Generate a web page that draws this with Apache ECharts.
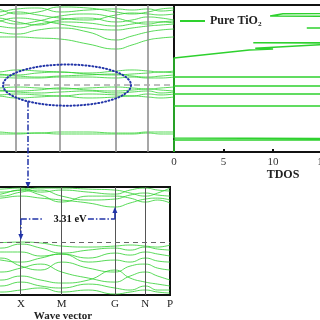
<!DOCTYPE html>
<html>
<head>
<meta charset="UTF-8">
<script src="https://cdn.jsdelivr.net/npm/echarts@6/dist/echarts.min.js"></script>
<style>
  html, body { margin: 0; padding: 0; background: #fff; }
  #chart { width: 320px; height: 320px; }
</style>
</head>
<body>
<div id="chart"></div>
<script>
// k-path (normalised distance) and high symmetry labels
const kLabels = ['X', 'M', 'G', 'N', 'P'];
const kTicks = [0.215, 0.43, 0.71, 0.87, 1];
const kSample = [0, 0.11, 0.215, 0.32, 0.43, 0.57, 0.71, 0.79, 0.87, 0.935, 1];

// top panel: full band structure (eV)
const topCond = [
  [6.41, 6.55, 6.55, 6.41, 6.27, 5.59, 4.91, 5.46, 6.14, 6.41, 6.55],
  [7.5, 7.23, 6.95, 7.5, 7.77, 7.23, 6.14, 6.68, 7.23, 7.5, 7.63],
  [8.31, 8.04, 7.77, 8.31, 8.59, 8.45, 8.04, 8.31, 8.59, 8.59, 8.45],
  [8.86, 9.13, 8.59, 8.18, 8.86, 9.13, 8.59, 8.86, 9.27, 9.13, 8.86],
  [9.68, 9.4, 9.95, 9.54, 9.13, 8.86, 9.54, 9.81, 9.68, 9.54, 9.68],
  [10.22, 9.95, 10.36, 10.49, 9.95, 10.22, 10.36, 10.22, 10.36, 10.08, 10.22],
  [8.04, 8.59, 9.13, 8.86, 8.31, 7.77, 7.5, 7.77, 8.04, 8.18, 8.31],
  [9.27, 8.86, 8.31, 8.72, 9.4, 9.68, 9.13, 8.59, 8.31, 8.59, 8.72],
  [10.49, 10.36, 9.68, 9.95, 10.63, 10.49, 9.95, 9.68, 9.95, 10.36, 10.49]
];
const topMid = [
  [1.92, 1.78, 2.06, 1.92, 1.78, 1.65, 1.92, 2.06, 1.92, 1.78, 1.92],
  [1.65, 1.51, 1.38, 1.65, 1.78, 1.51, 1.38, 1.51, 1.65, 1.78, 1.65],
  [1.24, 1.38, 1.24, 1.1, 1.24, 1.38, 1.51, 1.24, 1.1, 1.24, 1.38],
  [0.97, 1.1, 0.97, 0.97, 1.1, 1.1, 0.97, 1.1, 0.97, 0.97, 1.1],
  [-0.26, -0.39, -0.26, -0.39, -0.53, -0.39, -0.26, -0.39, -0.53, -0.39, -0.26],
  [-0.53, -0.67, -0.8, -0.67, -0.39, -0.67, -0.8, -0.67, -0.53, -0.67, -0.8],
  [-0.94, -0.8, -0.94, -1.07, -0.94, -0.8, -1.07, -0.94, -0.8, -1.07, -0.94],
  [-1.21, -1.34, -1.21, -1.34, -1.48, -1.21, -1.34, -1.48, -1.21, -1.34, -1.21],
  [-1.62, -1.48, -1.75, -1.62, -1.48, -1.75, -1.62, -1.48, -1.62, -1.75, -1.62]
];
const topDeep = [
  [-6.38, -6.38, -6.52, -6.52, -6.38, -6.38, -6.52, -6.52, -6.38, -6.38, -6.38],
  [-6.65, -6.65, -6.65, -6.52, -6.65, -6.65, -6.65, -6.65, -6.52, -6.65, -6.65]
];

// bottom panel: zoom near the gap (eV)
const botCond = [
  [3.97, 4.15, 4.34, 4.15, 3.97, 3.69, 3.31, 3.69, 4.06, 4.15, 3.97],
  [4.53, 4.34, 4.72, 4.91, 4.34, 3.97, 4.06, 4.44, 4.63, 4.44, 4.34],
  [4.91, 5.0, 5.1, 4.72, 4.91, 4.72, 4.53, 4.91, 5.1, 4.91, 4.82],
  [5.1, 4.72, 4.91, 5.1, 5.1, 5.0, 4.91, 4.63, 4.34, 4.63, 5.1],
  [4.15, 4.53, 4.91, 4.44, 3.78, 4.34, 4.34, 4.15, 3.78, 3.97, 3.69]
];
const botVal = [
  [-0.09, -0.05, 0, -0.09, -0.38, -0.47, -0.38, -0.28, -0.38, -0.47, -0.28],
  [-0.38, -0.57, -0.19, -0.57, -1.04, -0.76, -0.57, -0.76, -0.47, -0.66, -0.76],
  [-0.76, -0.94, -0.94, -1.32, -1.13, -1.51, -1.04, -1.23, -0.94, -1.13, -1.32],
  [-1.32, -1.7, -1.89, -1.51, -1.13, -1.89, -1.7, -1.89, -1.51, -1.79, -1.89],
  [-1.89, -1.51, -2.27, -2.64, -1.89, -2.46, -2.83, -2.27, -2.08, -2.46, -2.64],
  [-2.64, -2.83, -2.46, -2.08, -2.83, -3.4, -3.78, -3.21, -2.83, -3.21, -3.59],
  [-3.21, -3.59, -3.21, -3.59, -3.87, -3.59, -2.64, -3.4, -3.78, -3.97, -4.15],
  [-3.97, -4.15, -3.78, -4.15, -4.34, -3.97, -4.34, -4.53, -4.15, -4.53, -4.53],
  [-4.53, -4.72, -4.53, -4.34, -4.72, -4.53, -4.91, -4.72, -4.53, -4.72, -4.82]
];

// total DOS, traced along energy
const tdosE = [-9.1, -7.47, -7.47, -7.2, -7.2, -2.84, -2.84, -2.82, -2.82, -1.21, -1.21, -1.19, -1.19,
  -0.12, -0.12, -0.1, -0.1, 1.1, 1.1, 1.12, 1.12, 3.69, 4.78, 4.9, 5.0, 5.5, 5.6, 5.72, 5.75, 5.8,
  7.45, 7.77, 8.1, 9.2, 9.4, 9.7, 10.2, 10.9];
const tdosD = [0, 0, 60, 60, 0, 0, 60, 60, 0, 0, 60, 60, 0,
  0, 60, 60, 0, 0, 60, 60, 0, 0, 7.6, 10, 8.2, 14.7, 60, 60, 8, 60,
  60, 13.4, 60, 60, 9.7, 11, 60, 60];
const tdosTicks = 5;

const green = '#2ed12e';
const blue = '#2234a8';
const serif = "'Liberation Serif', 'Times New Roman', serif";

const chart = echarts.init(document.getElementById('chart'));

function bands(list, idx) {
  return list.map(b => ({
    type: 'line', xAxisIndex: idx, yAxisIndex: idx, silent: true,
    data: kSample.map((k, i) => [k, b[i]]),
    smooth: 0.5, symbol: 'none',
    lineStyle: { color: green, width: 1, opacity: 0.8 }, z: 3
  }));
}

const vlines = (color, width) => kTicks.slice(0, 4).map(k => ({ xAxis: k, lineStyle: { color, width, type: 'solid' } }));

const cbMin = Math.min(...botCond.map(b => Math.min(...b)));
const vbMax = Math.max(...botVal.map(b => Math.max(...b)));
const gapText = (cbMin - vbMax).toFixed(2) + ' eV';

const gridBase = { show: true, borderColor: '#111', borderWidth: 2, outerBoundsMode: 'none', containLabel: false };

const option = {
  animation: false,
  grid: [
    Object.assign({ left: -26, top: 5, width: 200, height: 147 }, gridBase),
    Object.assign({ left: 174, top: 5, width: 218, height: 147 }, gridBase),
    Object.assign({ left: -20, top: 187, width: 190, height: 108 }, gridBase)
  ],
  xAxis: [
    { type: 'value', gridIndex: 0, min: 0, max: 1, show: false },
    {
      type: 'value', gridIndex: 1, min: 0, max: 22, interval: tdosTicks, position: 'bottom',
      axisLine: { show: true, onZero: false, lineStyle: { color: '#111', width: 2 } },
      axisTick: { show: true, inside: true, length: 3, lineStyle: { color: '#111', width: 2 } },
      axisLabel: { show: true, margin: 5, color: '#333', fontSize: 11, fontFamily: serif },
      splitLine: { show: false },
      name: 'TDOS', nameLocation: 'middle', nameGap: 15,
      nameTextStyle: { fontFamily: serif, fontWeight: 'bold', fontSize: 12, color: '#222' }
    },
    {
      type: 'value', gridIndex: 2, min: 0, max: 1, position: 'bottom',
      axisLine: { show: false, onZero: false }, axisTick: { show: false }, splitLine: { show: false },
      axisLabel: {
        show: true, margin: 4, color: '#222', fontSize: 11, fontFamily: serif,
        customValues: kTicks, formatter: v => kLabels[kTicks.indexOf(v)]
      },
      name: 'Wave vector', nameLocation: 'middle', nameGap: 16,
      nameTextStyle: { fontFamily: serif, fontWeight: 'bold', fontSize: 11, color: '#222', padding: [0, 24, 0, 0] }
    }
  ],
  yAxis: [
    { type: 'value', gridIndex: 0, min: -9.1, max: 10.9, show: false },
    { type: 'value', gridIndex: 1, min: -9.1, max: 10.9, show: false },
    { type: 'value', gridIndex: 2, min: -5, max: 5.2, show: false }
  ],
  legend: {
    data: [{ name: 'Pure TiO₂', icon: 'rect' }], left: 175, top: 10, itemWidth: 25, itemHeight: 2,
    textStyle: { fontFamily: serif, fontWeight: 'bold', fontSize: 12, color: '#222' }
  },
  series: [
    {
      type: 'line', xAxisIndex: 0, yAxisIndex: 0, data: [], silent: true,
      markLine: {
        silent: true, symbol: 'none', label: { show: false },
        data: vlines('#8a8a8a', 1.5).concat([{ yAxis: 0, lineStyle: { color: '#aaa', width: 1.5, type: [6, 4] } }])
      }
    },
    {
      type: 'line', xAxisIndex: 2, yAxisIndex: 2, data: [], silent: true,
      markLine: {
        silent: true, symbol: 'none', label: { show: false },
        data: vlines('#555', 1).concat([{ yAxis: 0, lineStyle: { color: '#666', width: 1, type: [5, 4] } }])
      }
    },
    ...bands(topCond, 0), ...bands(topMid, 0), ...bands(topDeep, 0),
    ...bands(botCond, 2), ...bands(botVal, 2),
    {
      name: 'Pure TiO₂', type: 'line', xAxisIndex: 1, yAxisIndex: 1, silent: true,
      data: tdosE.map((e, i) => [tdosD[i], e]),
      symbol: 'none', itemStyle: { color: green }, lineStyle: { color: green, width: 1.5 }, z: 4
    }
  ]
};
chart.setOption(option);

// annotations: ellipse, arrows, gap label
const ellipseK = 0.465, ellipseRk = 0.32, ellipseRe = 2.8, arrowK = 0.27;
const gapLevel = 2.17;
const px = (gi, k, e) => chart.convertToPixel({ gridIndex: gi }, [k, e]);

const c0 = px(0, ellipseK, 0);
const c1 = px(0, ellipseK + ellipseRk, ellipseRe);
const rx = c1[0] - c0[0], ry = c0[1] - c1[1];
const pts = [];
for (let i = 0; i < 90; i++) {
  const t = i / 90 * Math.PI * 2;
  pts.push([c0[0] + rx * Math.cos(t), c0[1] + ry * Math.sin(t)]);
}
const ax = px(0, arrowK, 0)[0];
const ay0 = c0[1] + ry * Math.sqrt(Math.max(0, 1 - Math.pow((ax - c0[0]) / rx, 2)));
const ay1 = px(2, 0, 5.2)[1];

const dashDot = { stroke: blue, lineWidth: 1.5, lineDash: [6, 2, 1.5, 2] };
const pX = px(2, kTicks[0], gapLevel);
const pL = px(2, 0.332, gapLevel);
const pT = px(2, 0.474, gapLevel);
const pR = px(2, 0.568, gapLevel);
const pG = px(2, kTicks[2], gapLevel);
const yVB = px(2, 0, vbMax)[1];
const yCB = px(2, 0, cbMin)[1];

const head = (x, y, dir) => ({
  type: 'polygon', z: 101,
  shape: { points: [[x - 2.5, y - 6 * dir], [x + 2.5, y - 6 * dir], [x, y]] },
  style: { fill: blue }
});

chart.setOption({
  graphic: [
    { type: 'polygon', z: 100, shape: { points: pts }, style: { fill: 'none', stroke: blue, lineWidth: 2, lineDash: [1, 2.5], lineCap: 'round' } },
    { type: 'line', z: 100, shape: { x1: ax, y1: ay0, x2: ax, y2: ay1 - 5 }, style: dashDot },
    head(ax, ay1 + 1, 1),
    { type: 'line', z: 100, shape: { x1: pX[0], y1: pX[1], x2: pL[0], y2: pL[1] }, style: dashDot },
    { type: 'line', z: 100, shape: { x1: pR[0], y1: pR[1], x2: pG[0], y2: pG[1] }, style: dashDot },
    { type: 'line', z: 100, shape: { x1: pX[0], y1: pX[1], x2: pX[0], y2: yVB - 5 }, style: dashDot },
    head(pX[0], yVB - 2, 1),
    { type: 'line', z: 100, shape: { x1: pG[0], y1: pG[1], x2: pG[0], y2: yCB + 5 }, style: dashDot },
    head(pG[0], yCB, -1),
    {
      type: 'text', z: 100, x: pT[0], y: pT[1],
      style: { text: gapText, fill: '#111', font: 'bold 10.5px ' + serif, align: 'center', verticalAlign: 'middle' }
    }
  ]
});
</script>
</body>
</html>
